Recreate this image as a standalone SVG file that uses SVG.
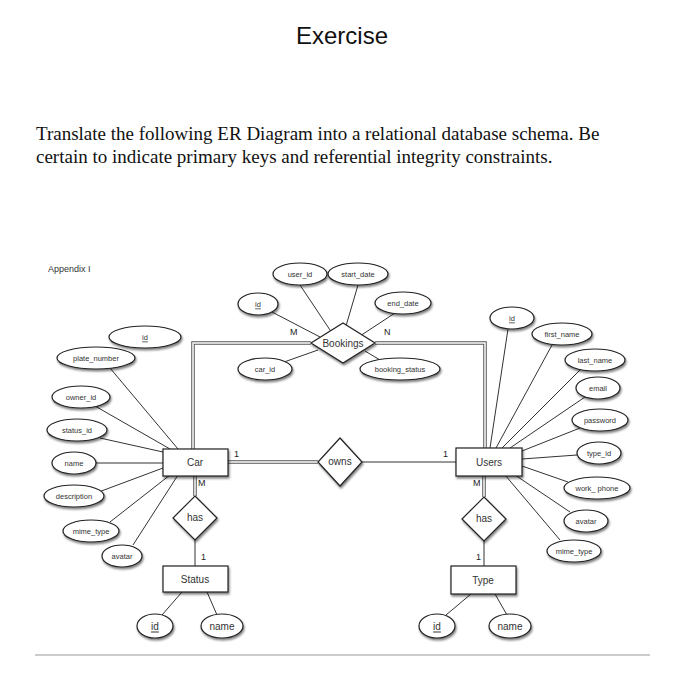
<svg xmlns="http://www.w3.org/2000/svg" width="700" height="700" viewBox="0 0 700 700">
<defs>
<filter id="sh" x="-30%" y="-30%" width="160%" height="180%"><feDropShadow dx="1" dy="2" stdDeviation="1.2" flood-color="#000" flood-opacity="0.5"/></filter>
</defs>
<style>
.a{fill:#fff;stroke:#222;stroke-width:1.2;filter:url(#sh)}
.e{fill:#fff;stroke:#222;stroke-width:1.2;filter:url(#sh)}
.t{font-family:"Liberation Sans",Arial,sans-serif;font-size:7.5px;fill:#333;text-anchor:middle;dominant-baseline:central}
.T{font-family:"Liberation Sans",Arial,sans-serif;font-size:10px;fill:#333;text-anchor:middle;dominant-baseline:central}
.l{stroke:#333;stroke-width:1;fill:none}
.d{stroke:#555;stroke-width:3.5;fill:none}
.dw{stroke:#fff;stroke-width:1.5;fill:none}
.c{font-family:"Liberation Sans",Arial,sans-serif;font-size:9px;fill:#222}
</style>
<rect width="700" height="700" fill="#fff"/>
<text x="342" y="44" font-family="Liberation Sans,Arial,sans-serif" font-size="24" text-anchor="middle" fill="#111">Exercise</text>
<text x="36" y="140" font-family="Liberation Serif,Times New Roman,serif" font-size="19" fill="#111">Translate the following ER Diagram into a relational database schema. Be</text>
<text x="36" y="163" font-family="Liberation Serif,Times New Roman,serif" font-size="19" fill="#111">certain to indicate primary keys and referential integrity constraints.</text>
<text x="48" y="272" font-family="Liberation Sans,Arial,sans-serif" font-size="9" fill="#333">Appendix I</text>
<line x1="35" y1="655" x2="650" y2="655" stroke="#999" stroke-width="1.2"/>
<g id="connectors">
<path class="d" d="M311 343 H193 V449 M375 343 H485 V448 M228 462 H318 M195 475 V496 M484 475 V497"/>
<path class="dw" d="M311 343 H193 V449 M375 343 H485 V448 M228 462 H318 M195 475 V496 M484 475 V497"/>
<path class="l" d="M362 462 H456 M195 540 V566 M484 541 V566"/>
<path class="l" d="M300 285 L332 333 M358 285 L346 326 M272 312 L320 337 M395 313 L360 336 M284 362 L318 350 M380 360 L365 351"/>
<path class="l" d="M110 368 L178 449 M95 406 L170 449 M100 438 L163 452 M96 463 H163 M96 493 L163 468 M110 522 L170 475 M133 545 L178 475"/>
<path class="l" d="M508 329 L490 448 M552 345 L496 448 M580 370 L502 448 M585 397 L510 448 M580 428 L522 451 M577 455 L522 459 M568 482 L522 466 M570 512 L515 475 M560 540 L505 475"/>
<path class="l" d="M182 592 L162 615 M207 592 L217 615 M471 594 L446 615 M495 594 L507 615"/>
</g>
<g class="c">
<text x="290" y="335">M</text><text x="384" y="335">N</text>
<text x="234" y="457">1</text><text x="443" y="457">1</text>
<text x="198" y="486">M</text><text x="473" y="486">M</text>
<text x="201" y="560">1</text><text x="476" y="560">1</text>
</g>
<g id="car"><rect class="e" x="163" y="449" width="65" height="27"/><text class="T" x="195" y="462">Car</text></g>
<g id="users"><rect class="e" x="456" y="448" width="66" height="28"/><text class="T" x="489" y="462">Users</text></g>
<g id="status"><rect class="e" x="163" y="566" width="65" height="26"/><text class="T" x="195" y="579">Status</text></g>
<g id="type"><rect class="e" x="451" y="566" width="65" height="28"/><text class="T" x="483" y="580">Type</text></g>
<g id="bookings"><polygon class="e" points="343,323 375,343 343,363 311,343"/><text class="T" x="343" y="343">Bookings</text></g>
<g id="owns"><polygon class="e" points="340,438 362,462 340,486 318,462"/><text class="T" x="340" y="461">owns</text></g>
<g id="has1"><polygon class="e" points="195,496 217,518 195,540 173,518"/><text class="T" x="195" y="517">has</text></g>
<g id="has2"><polygon class="e" points="484,497 506,519 484,541 462,519"/><text class="T" x="484" y="518">has</text></g>
<g id="b_attrs">
<ellipse class="a" cx="300" cy="274" rx="27" ry="11"/><text class="t" x="300" y="274">user_id</text>
<ellipse class="a" cx="358" cy="274" rx="30" ry="11"/><text class="t" x="358" y="274">start_date</text>
<ellipse class="a" cx="258" cy="304" rx="20" ry="11"/><text class="t" x="258" y="304" text-decoration="underline">id</text>
<ellipse class="a" cx="403" cy="303" rx="28" ry="11"/><text class="t" x="403" y="303">end_date</text>
<ellipse class="a" cx="265" cy="369" rx="27" ry="11"/><text class="t" x="265" y="369">car_id</text>
<ellipse class="a" cx="400" cy="369" rx="40" ry="11"/><text class="t" x="400" y="369">booking_status</text>
</g>
<g id="car_attrs">
<ellipse class="a" cx="145" cy="337" rx="36" ry="11"/><text class="t" x="145" y="337" text-decoration="underline">id</text>
<ellipse class="a" cx="96" cy="358" rx="39" ry="11"/><text class="t" x="96" y="358">plate_number</text>
<ellipse class="a" cx="81" cy="397" rx="29" ry="11"/><text class="t" x="81" y="397">owner_id</text>
<ellipse class="a" cx="77" cy="430" rx="30" ry="11"/><text class="t" x="77" y="430">status_id</text>
<ellipse class="a" cx="74" cy="463" rx="22" ry="11"/><text class="t" x="74" y="463">name</text>
<ellipse class="a" cx="74" cy="496" rx="30" ry="11"/><text class="t" x="74" y="496">description</text>
<ellipse class="a" cx="91" cy="531" rx="28" ry="11"/><text class="t" x="91" y="531">mime_type</text>
<ellipse class="a" cx="122" cy="556" rx="20" ry="11"/><text class="t" x="122" y="556">avatar</text>
</g>
<g id="user_attrs">
<ellipse class="a" cx="512" cy="318" rx="22" ry="11"/><text class="t" x="512" y="318" text-decoration="underline">id</text>
<ellipse class="a" cx="562" cy="334" rx="30" ry="11"/><text class="t" x="562" y="334">first_name</text>
<ellipse class="a" cx="595" cy="360" rx="30" ry="11"/><text class="t" x="595" y="360">last_name</text>
<ellipse class="a" cx="598" cy="388" rx="22" ry="11"/><text class="t" x="598" y="388">email</text>
<ellipse class="a" cx="600" cy="420" rx="28" ry="11"/><text class="t" x="600" y="420">password</text>
<ellipse class="a" cx="599" cy="453" rx="22" ry="11"/><text class="t" x="599" y="453">type_id</text>
<ellipse class="a" cx="597" cy="488" rx="33" ry="11"/><text class="t" x="597" y="488">work_ phone</text>
<ellipse class="a" cx="586" cy="521" rx="22" ry="11"/><text class="t" x="586" y="521">avatar</text>
<ellipse class="a" cx="574" cy="551" rx="27" ry="11"/><text class="t" x="574" y="551">mime_type</text>
</g>
<g id="st_attrs">
<ellipse class="a" cx="155" cy="626" rx="18" ry="12"/><text class="T" x="155" y="626" text-decoration="underline">id</text>
<ellipse class="a" cx="222" cy="626" rx="21" ry="12"/><text class="T" x="222" y="626">name</text>
</g>
<g id="ty_attrs">
<ellipse class="a" cx="437" cy="626" rx="18" ry="12"/><text class="T" x="437" y="626" text-decoration="underline">id</text>
<ellipse class="a" cx="510" cy="626" rx="21" ry="12"/><text class="T" x="510" y="626">name</text>
</g>
</svg>
